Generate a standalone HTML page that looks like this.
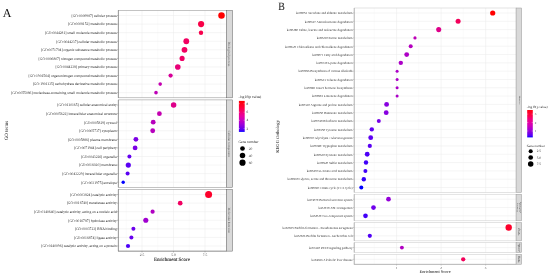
<!DOCTYPE html>
<html><head><meta charset="utf-8"><style>
html,body{margin:0;padding:0;background:#fff;}
body{width:550px;height:275px;overflow:hidden;}
svg{display:block;font-family:'Liberation Serif', 'Times New Roman', serif;text-rendering:geometricPrecision;}
</style></head><body>
<svg width="550" height="275" viewBox="0 0 550 275">
<rect width="550" height="275" fill="#fff"/>
<text x="2.8" y="16.8" font-size="12" fill="#111">A</text>
<text x="278.3" y="10.3" font-size="11.2" fill="#111" transform="translate(278.3 0) scale(0.88 1) translate(-278.3 0)">B</text>
<rect x="118.3" y="10.40" width="108.10" height="87.41" fill="#fff"/>
<line x1="126.25" y1="10.40" x2="126.25" y2="97.81" stroke="#f3f3f3" stroke-width="0.3"/>
<line x1="157.75" y1="10.40" x2="157.75" y2="97.81" stroke="#f3f3f3" stroke-width="0.3"/>
<line x1="189.25" y1="10.40" x2="189.25" y2="97.81" stroke="#f3f3f3" stroke-width="0.3"/>
<line x1="220.75" y1="10.40" x2="220.75" y2="97.81" stroke="#f3f3f3" stroke-width="0.3"/>
<line x1="142.00" y1="10.40" x2="142.00" y2="97.81" stroke="#ececec" stroke-width="0.55"/>
<line x1="173.50" y1="10.40" x2="173.50" y2="97.81" stroke="#ececec" stroke-width="0.55"/>
<line x1="205.00" y1="10.40" x2="205.00" y2="97.81" stroke="#ececec" stroke-width="0.55"/>
<line x1="118.3" y1="15.54" x2="226.4" y2="15.54" stroke="#ececec" stroke-width="0.55"/>
<line x1="118.3" y1="24.11" x2="226.4" y2="24.11" stroke="#ececec" stroke-width="0.55"/>
<line x1="118.3" y1="32.68" x2="226.4" y2="32.68" stroke="#ececec" stroke-width="0.55"/>
<line x1="118.3" y1="41.25" x2="226.4" y2="41.25" stroke="#ececec" stroke-width="0.55"/>
<line x1="118.3" y1="49.82" x2="226.4" y2="49.82" stroke="#ececec" stroke-width="0.55"/>
<line x1="118.3" y1="58.39" x2="226.4" y2="58.39" stroke="#ececec" stroke-width="0.55"/>
<line x1="118.3" y1="66.96" x2="226.4" y2="66.96" stroke="#ececec" stroke-width="0.55"/>
<line x1="118.3" y1="75.53" x2="226.4" y2="75.53" stroke="#ececec" stroke-width="0.55"/>
<line x1="118.3" y1="84.10" x2="226.4" y2="84.10" stroke="#ececec" stroke-width="0.55"/>
<line x1="118.3" y1="92.67" x2="226.4" y2="92.67" stroke="#ececec" stroke-width="0.55"/>
<rect x="118.3" y="10.40" width="108.10" height="87.41" fill="none" stroke="#888" stroke-width="0.5"/>
<line x1="118.3" y1="10.40" x2="118.3" y2="97.81" stroke="#808080" stroke-width="0.6"/>
<rect x="226.40" y="10.40" width="6.3" height="87.41" fill="#d9d9d9" stroke="#666" stroke-width="0.5"/>
<clipPath id="c344_0"><rect x="226.40" y="10.40" width="6.3" height="87.41"/></clipPath>
<g clip-path="url(#c344_0)"><text x="229.35" y="54.11" transform="rotate(90 229.35 54.11)" font-size="3.3" fill="#555" text-anchor="middle" dominant-baseline="central">Biological process</text></g>
<line x1="117.00" y1="15.54" x2="118.3" y2="15.54" stroke="#808080" stroke-width="0.5"/>
<text x="116.80" y="15.89" font-size="3.66" fill="#222" text-anchor="end" dominant-baseline="central">[GO:0009987] cellular process</text>
<circle cx="221.50" cy="15.54" r="3.25" fill="#ff0000"/>
<line x1="117.00" y1="24.11" x2="118.3" y2="24.11" stroke="#808080" stroke-width="0.5"/>
<text x="116.80" y="24.46" font-size="3.66" fill="#222" text-anchor="end" dominant-baseline="central">[GO:0008152] metabolic process</text>
<circle cx="201.10" cy="24.11" r="3.10" fill="#f80047"/>
<line x1="117.00" y1="32.68" x2="118.3" y2="32.68" stroke="#808080" stroke-width="0.5"/>
<text x="116.80" y="33.03" font-size="3.66" fill="#222" text-anchor="end" dominant-baseline="central">[GO:0044281] small molecule metabolic process</text>
<circle cx="201.00" cy="32.68" r="2.20" fill="#f7004c"/>
<line x1="117.00" y1="41.25" x2="118.3" y2="41.25" stroke="#808080" stroke-width="0.5"/>
<text x="116.80" y="41.60" font-size="3.66" fill="#222" text-anchor="end" dominant-baseline="central">[GO:0044237] cellular metabolic process</text>
<circle cx="186.30" cy="41.25" r="2.90" fill="#f10061"/>
<line x1="117.00" y1="49.82" x2="118.3" y2="49.82" stroke="#808080" stroke-width="0.5"/>
<text x="116.80" y="50.17" font-size="3.66" fill="#222" text-anchor="end" dominant-baseline="central">[GO:0071704] organic substance metabolic process</text>
<circle cx="184.50" cy="49.82" r="2.90" fill="#f10061"/>
<line x1="117.00" y1="58.39" x2="118.3" y2="58.39" stroke="#808080" stroke-width="0.5"/>
<text x="116.80" y="58.74" font-size="3.66" fill="#222" text-anchor="end" dominant-baseline="central">[GO:0006807] nitrogen compound metabolic process</text>
<circle cx="182.10" cy="58.39" r="2.55" fill="#ef0065"/>
<line x1="117.00" y1="66.96" x2="118.3" y2="66.96" stroke="#808080" stroke-width="0.5"/>
<text x="116.80" y="67.31" font-size="3.66" fill="#222" text-anchor="end" dominant-baseline="central">[GO:0044238] primary metabolic process</text>
<circle cx="177.80" cy="66.96" r="2.80" fill="#e80078"/>
<line x1="117.00" y1="75.53" x2="118.3" y2="75.53" stroke="#808080" stroke-width="0.5"/>
<text x="116.80" y="75.88" font-size="3.66" fill="#222" text-anchor="end" dominant-baseline="central">[GO:1901564] organonitrogen compound metabolic process</text>
<circle cx="170.60" cy="75.53" r="2.15" fill="#d60098"/>
<line x1="117.00" y1="84.10" x2="118.3" y2="84.10" stroke="#808080" stroke-width="0.5"/>
<text x="116.80" y="84.45" font-size="3.66" fill="#222" text-anchor="end" dominant-baseline="central">[GO:1901135] carbohydrate derivative metabolic process</text>
<circle cx="160.20" cy="84.10" r="1.80" fill="#c400b0"/>
<line x1="117.00" y1="92.67" x2="118.3" y2="92.67" stroke="#808080" stroke-width="0.5"/>
<text x="116.80" y="93.02" font-size="3.66" fill="#222" text-anchor="end" dominant-baseline="central">[GO:0055086] nucleobase-containing small molecule metabolic process</text>
<circle cx="156.00" cy="92.67" r="1.80" fill="#bd00b7"/>
<rect x="118.3" y="99.91" width="108.10" height="87.41" fill="#fff"/>
<line x1="126.25" y1="99.91" x2="126.25" y2="187.33" stroke="#f3f3f3" stroke-width="0.3"/>
<line x1="157.75" y1="99.91" x2="157.75" y2="187.33" stroke="#f3f3f3" stroke-width="0.3"/>
<line x1="189.25" y1="99.91" x2="189.25" y2="187.33" stroke="#f3f3f3" stroke-width="0.3"/>
<line x1="220.75" y1="99.91" x2="220.75" y2="187.33" stroke="#f3f3f3" stroke-width="0.3"/>
<line x1="142.00" y1="99.91" x2="142.00" y2="187.33" stroke="#ececec" stroke-width="0.55"/>
<line x1="173.50" y1="99.91" x2="173.50" y2="187.33" stroke="#ececec" stroke-width="0.55"/>
<line x1="205.00" y1="99.91" x2="205.00" y2="187.33" stroke="#ececec" stroke-width="0.55"/>
<line x1="118.3" y1="105.06" x2="226.4" y2="105.06" stroke="#ececec" stroke-width="0.55"/>
<line x1="118.3" y1="113.63" x2="226.4" y2="113.63" stroke="#ececec" stroke-width="0.55"/>
<line x1="118.3" y1="122.20" x2="226.4" y2="122.20" stroke="#ececec" stroke-width="0.55"/>
<line x1="118.3" y1="130.77" x2="226.4" y2="130.77" stroke="#ececec" stroke-width="0.55"/>
<line x1="118.3" y1="139.34" x2="226.4" y2="139.34" stroke="#ececec" stroke-width="0.55"/>
<line x1="118.3" y1="147.91" x2="226.4" y2="147.91" stroke="#ececec" stroke-width="0.55"/>
<line x1="118.3" y1="156.48" x2="226.4" y2="156.48" stroke="#ececec" stroke-width="0.55"/>
<line x1="118.3" y1="165.05" x2="226.4" y2="165.05" stroke="#ececec" stroke-width="0.55"/>
<line x1="118.3" y1="173.62" x2="226.4" y2="173.62" stroke="#ececec" stroke-width="0.55"/>
<line x1="118.3" y1="182.19" x2="226.4" y2="182.19" stroke="#ececec" stroke-width="0.55"/>
<rect x="118.3" y="99.91" width="108.10" height="87.41" fill="none" stroke="#888" stroke-width="0.5"/>
<line x1="118.3" y1="99.91" x2="118.3" y2="187.33" stroke="#808080" stroke-width="0.6"/>
<rect x="226.40" y="99.91" width="6.3" height="87.41" fill="#d9d9d9" stroke="#666" stroke-width="0.5"/>
<clipPath id="c344_1"><rect x="226.40" y="99.91" width="6.3" height="87.41"/></clipPath>
<g clip-path="url(#c344_1)"><text x="229.35" y="143.62" transform="rotate(90 229.35 143.62)" font-size="3.3" fill="#555" text-anchor="middle" dominant-baseline="central">Cellular component</text></g>
<line x1="117.00" y1="105.06" x2="118.3" y2="105.06" stroke="#808080" stroke-width="0.5"/>
<text x="116.80" y="105.41" font-size="3.66" fill="#222" text-anchor="end" dominant-baseline="central">[GO:0110165] cellular anatomical entity</text>
<circle cx="173.60" cy="105.06" r="2.75" fill="#de008a"/>
<line x1="117.00" y1="113.63" x2="118.3" y2="113.63" stroke="#808080" stroke-width="0.5"/>
<text x="116.80" y="113.98" font-size="3.66" fill="#222" text-anchor="end" dominant-baseline="central">[GO:0005622] intracellular anatomical structure</text>
<circle cx="159.40" cy="113.63" r="2.40" fill="#c400b0"/>
<line x1="117.00" y1="122.20" x2="118.3" y2="122.20" stroke="#808080" stroke-width="0.5"/>
<text x="116.80" y="122.55" font-size="3.66" fill="#222" text-anchor="end" dominant-baseline="central">[GO:0005829] cytosol</text>
<circle cx="153.20" cy="122.20" r="2.40" fill="#b700bd"/>
<line x1="117.00" y1="130.77" x2="118.3" y2="130.77" stroke="#808080" stroke-width="0.5"/>
<text x="116.80" y="131.12" font-size="3.66" fill="#222" text-anchor="end" dominant-baseline="central">[GO:0005737] cytoplasm</text>
<circle cx="152.70" cy="130.77" r="2.40" fill="#b700bd"/>
<line x1="117.00" y1="139.34" x2="118.3" y2="139.34" stroke="#808080" stroke-width="0.5"/>
<text x="116.80" y="139.69" font-size="3.66" fill="#222" text-anchor="end" dominant-baseline="central">[GO:0005886] plasma membrane</text>
<circle cx="135.90" cy="139.34" r="2.40" fill="#7d00e5"/>
<line x1="117.00" y1="147.91" x2="118.3" y2="147.91" stroke="#808080" stroke-width="0.5"/>
<text x="116.80" y="148.26" font-size="3.66" fill="#222" text-anchor="end" dominant-baseline="central">[GO:0071944] cell periphery</text>
<circle cx="135.10" cy="147.91" r="2.40" fill="#7b00e6"/>
<line x1="117.00" y1="156.48" x2="118.3" y2="156.48" stroke="#808080" stroke-width="0.5"/>
<text x="116.80" y="156.83" font-size="3.66" fill="#222" text-anchor="end" dominant-baseline="central">[GO:0043226] organelle</text>
<circle cx="129.40" cy="156.48" r="2.00" fill="#6500ef"/>
<line x1="117.00" y1="165.05" x2="118.3" y2="165.05" stroke="#808080" stroke-width="0.5"/>
<text x="116.80" y="165.40" font-size="3.66" fill="#222" text-anchor="end" dominant-baseline="central">[GO:0016020] membrane</text>
<circle cx="128.30" cy="165.05" r="2.60" fill="#5a00f3"/>
<line x1="117.00" y1="173.62" x2="118.3" y2="173.62" stroke="#808080" stroke-width="0.5"/>
<text x="116.80" y="173.97" font-size="3.66" fill="#222" text-anchor="end" dominant-baseline="central">[GO:0043229] intracellular organelle</text>
<circle cx="127.60" cy="173.62" r="2.00" fill="#5a00f3"/>
<line x1="117.00" y1="182.19" x2="118.3" y2="182.19" stroke="#808080" stroke-width="0.5"/>
<text x="116.80" y="182.54" font-size="3.66" fill="#222" text-anchor="end" dominant-baseline="central">[GO:0031975] envelope</text>
<circle cx="123.20" cy="182.19" r="1.70" fill="#0000ff"/>
<rect x="118.3" y="189.43" width="108.10" height="61.70" fill="#fff"/>
<line x1="126.25" y1="189.43" x2="126.25" y2="251.13" stroke="#f3f3f3" stroke-width="0.3"/>
<line x1="157.75" y1="189.43" x2="157.75" y2="251.13" stroke="#f3f3f3" stroke-width="0.3"/>
<line x1="189.25" y1="189.43" x2="189.25" y2="251.13" stroke="#f3f3f3" stroke-width="0.3"/>
<line x1="220.75" y1="189.43" x2="220.75" y2="251.13" stroke="#f3f3f3" stroke-width="0.3"/>
<line x1="142.00" y1="189.43" x2="142.00" y2="251.13" stroke="#ececec" stroke-width="0.55"/>
<line x1="173.50" y1="189.43" x2="173.50" y2="251.13" stroke="#ececec" stroke-width="0.55"/>
<line x1="205.00" y1="189.43" x2="205.00" y2="251.13" stroke="#ececec" stroke-width="0.55"/>
<line x1="118.3" y1="194.57" x2="226.4" y2="194.57" stroke="#ececec" stroke-width="0.55"/>
<line x1="118.3" y1="203.14" x2="226.4" y2="203.14" stroke="#ececec" stroke-width="0.55"/>
<line x1="118.3" y1="211.71" x2="226.4" y2="211.71" stroke="#ececec" stroke-width="0.55"/>
<line x1="118.3" y1="220.28" x2="226.4" y2="220.28" stroke="#ececec" stroke-width="0.55"/>
<line x1="118.3" y1="228.85" x2="226.4" y2="228.85" stroke="#ececec" stroke-width="0.55"/>
<line x1="118.3" y1="237.42" x2="226.4" y2="237.42" stroke="#ececec" stroke-width="0.55"/>
<line x1="118.3" y1="245.99" x2="226.4" y2="245.99" stroke="#ececec" stroke-width="0.55"/>
<rect x="118.3" y="189.43" width="108.10" height="61.70" fill="none" stroke="#888" stroke-width="0.5"/>
<line x1="118.3" y1="189.43" x2="118.3" y2="251.13" stroke="#808080" stroke-width="0.6"/>
<rect x="226.40" y="189.43" width="6.3" height="61.70" fill="#d9d9d9" stroke="#666" stroke-width="0.5"/>
<clipPath id="c344_2"><rect x="226.40" y="189.43" width="6.3" height="61.70"/></clipPath>
<g clip-path="url(#c344_2)"><text x="229.35" y="220.28" transform="rotate(90 229.35 220.28)" font-size="3.3" fill="#555" text-anchor="middle" dominant-baseline="central">Molecular function</text></g>
<line x1="117.00" y1="194.57" x2="118.3" y2="194.57" stroke="#808080" stroke-width="0.5"/>
<text x="116.80" y="194.92" font-size="3.66" fill="#222" text-anchor="end" dominant-baseline="central">[GO:0003824] catalytic activity</text>
<circle cx="208.60" cy="194.57" r="3.50" fill="#fd002b"/>
<line x1="117.00" y1="203.14" x2="118.3" y2="203.14" stroke="#808080" stroke-width="0.5"/>
<text x="116.80" y="203.49" font-size="3.66" fill="#222" text-anchor="end" dominant-baseline="central">[GO:0016740] transferase activity</text>
<circle cx="180.20" cy="203.14" r="2.35" fill="#f10061"/>
<line x1="117.00" y1="211.71" x2="118.3" y2="211.71" stroke="#808080" stroke-width="0.5"/>
<text x="116.80" y="212.06" font-size="3.66" fill="#222" text-anchor="end" dominant-baseline="central">[GO:0140640] catalytic activity, acting on a nucleic acid</text>
<circle cx="152.60" cy="211.71" r="2.10" fill="#b100c2"/>
<line x1="117.00" y1="220.28" x2="118.3" y2="220.28" stroke="#808080" stroke-width="0.5"/>
<text x="116.80" y="220.63" font-size="3.66" fill="#222" text-anchor="end" dominant-baseline="central">[GO:0016787] hydrolase activity</text>
<circle cx="145.80" cy="220.28" r="2.55" fill="#a000d0"/>
<line x1="117.00" y1="228.85" x2="118.3" y2="228.85" stroke="#808080" stroke-width="0.5"/>
<text x="116.80" y="229.20" font-size="3.66" fill="#222" text-anchor="end" dominant-baseline="central">[GO:0003723] RNA binding</text>
<circle cx="133.40" cy="228.85" r="2.00" fill="#6c00ed"/>
<line x1="117.00" y1="237.42" x2="118.3" y2="237.42" stroke="#808080" stroke-width="0.5"/>
<text x="116.80" y="237.77" font-size="3.66" fill="#222" text-anchor="end" dominant-baseline="central">[GO:0016874] ligase activity</text>
<circle cx="131.40" cy="237.42" r="2.00" fill="#6800ee"/>
<line x1="117.00" y1="245.99" x2="118.3" y2="245.99" stroke="#808080" stroke-width="0.5"/>
<text x="116.80" y="246.34" font-size="3.66" fill="#222" text-anchor="end" dominant-baseline="central">[GO:0140096] catalytic activity, acting on a protein</text>
<circle cx="128.00" cy="245.99" r="2.10" fill="#4c00f7"/>
<line x1="142.00" y1="251.13" x2="142.00" y2="252.43" stroke="#808080" stroke-width="0.5"/>
<text x="142.00" y="254.63" font-size="3.6" fill="#222" text-anchor="middle" dominant-baseline="central">2.5</text>
<line x1="173.50" y1="251.13" x2="173.50" y2="252.43" stroke="#808080" stroke-width="0.5"/>
<text x="173.50" y="254.63" font-size="3.6" fill="#222" text-anchor="middle" dominant-baseline="central">5.0</text>
<line x1="205.00" y1="251.13" x2="205.00" y2="252.43" stroke="#808080" stroke-width="0.5"/>
<text x="205.00" y="254.63" font-size="3.6" fill="#222" text-anchor="middle" dominant-baseline="central">7.5</text>
<line x1="118.00" y1="251.13" x2="226.4" y2="251.13" stroke="#808080" stroke-width="0.6"/>
<rect x="354.2" y="8.00" width="161.90" height="184.48" fill="#fff"/>
<line x1="374.27" y1="8.00" x2="374.27" y2="192.48" stroke="#f3f3f3" stroke-width="0.3"/>
<line x1="418.82" y1="8.00" x2="418.82" y2="192.48" stroke="#f3f3f3" stroke-width="0.3"/>
<line x1="463.38" y1="8.00" x2="463.38" y2="192.48" stroke="#f3f3f3" stroke-width="0.3"/>
<line x1="507.92" y1="8.00" x2="507.92" y2="192.48" stroke="#f3f3f3" stroke-width="0.3"/>
<line x1="396.55" y1="8.00" x2="396.55" y2="192.48" stroke="#ececec" stroke-width="0.55"/>
<line x1="441.10" y1="8.00" x2="441.10" y2="192.48" stroke="#ececec" stroke-width="0.55"/>
<line x1="485.65" y1="8.00" x2="485.65" y2="192.48" stroke="#ececec" stroke-width="0.55"/>
<line x1="354.2" y1="12.99" x2="516.1" y2="12.99" stroke="#ececec" stroke-width="0.55"/>
<line x1="354.2" y1="21.30" x2="516.1" y2="21.30" stroke="#ececec" stroke-width="0.55"/>
<line x1="354.2" y1="29.61" x2="516.1" y2="29.61" stroke="#ececec" stroke-width="0.55"/>
<line x1="354.2" y1="37.92" x2="516.1" y2="37.92" stroke="#ececec" stroke-width="0.55"/>
<line x1="354.2" y1="46.23" x2="516.1" y2="46.23" stroke="#ececec" stroke-width="0.55"/>
<line x1="354.2" y1="54.54" x2="516.1" y2="54.54" stroke="#ececec" stroke-width="0.55"/>
<line x1="354.2" y1="62.85" x2="516.1" y2="62.85" stroke="#ececec" stroke-width="0.55"/>
<line x1="354.2" y1="71.16" x2="516.1" y2="71.16" stroke="#ececec" stroke-width="0.55"/>
<line x1="354.2" y1="79.47" x2="516.1" y2="79.47" stroke="#ececec" stroke-width="0.55"/>
<line x1="354.2" y1="87.78" x2="516.1" y2="87.78" stroke="#ececec" stroke-width="0.55"/>
<line x1="354.2" y1="96.09" x2="516.1" y2="96.09" stroke="#ececec" stroke-width="0.55"/>
<line x1="354.2" y1="104.40" x2="516.1" y2="104.40" stroke="#ececec" stroke-width="0.55"/>
<line x1="354.2" y1="112.71" x2="516.1" y2="112.71" stroke="#ececec" stroke-width="0.55"/>
<line x1="354.2" y1="121.02" x2="516.1" y2="121.02" stroke="#ececec" stroke-width="0.55"/>
<line x1="354.2" y1="129.33" x2="516.1" y2="129.33" stroke="#ececec" stroke-width="0.55"/>
<line x1="354.2" y1="137.64" x2="516.1" y2="137.64" stroke="#ececec" stroke-width="0.55"/>
<line x1="354.2" y1="145.95" x2="516.1" y2="145.95" stroke="#ececec" stroke-width="0.55"/>
<line x1="354.2" y1="154.26" x2="516.1" y2="154.26" stroke="#ececec" stroke-width="0.55"/>
<line x1="354.2" y1="162.57" x2="516.1" y2="162.57" stroke="#ececec" stroke-width="0.55"/>
<line x1="354.2" y1="170.88" x2="516.1" y2="170.88" stroke="#ececec" stroke-width="0.55"/>
<line x1="354.2" y1="179.19" x2="516.1" y2="179.19" stroke="#ececec" stroke-width="0.55"/>
<line x1="354.2" y1="187.50" x2="516.1" y2="187.50" stroke="#ececec" stroke-width="0.55"/>
<rect x="354.2" y="8.00" width="161.90" height="184.48" fill="none" stroke="#c8c8c8" stroke-width="0.5"/>
<line x1="354.2" y1="8.00" x2="354.2" y2="192.48" stroke="#a0a0a0" stroke-width="0.65"/>
<rect x="516.10" y="8.00" width="5.6" height="184.48" fill="#d9d9d9" stroke="#999" stroke-width="0.5"/>
<clipPath id="c432_0"><rect x="516.10" y="8.00" width="5.6" height="184.48"/></clipPath>
<g clip-path="url(#c432_0)"><text x="518.60" y="100.24" transform="rotate(90 518.60 100.24)" font-size="1.9" fill="#222" text-anchor="middle" dominant-baseline="central">Metabolism</text></g>
<line x1="352.90" y1="12.99" x2="354.2" y2="12.99" stroke="#a0a0a0" stroke-width="0.5"/>
<text x="352.60" y="13.29" font-size="3.2" fill="#222" text-anchor="end" dominant-baseline="central">ko00053 Ascorbate and aldarate metabolism</text>
<circle cx="492.70" cy="12.99" r="2.60" fill="#ff0000"/>
<line x1="352.90" y1="21.30" x2="354.2" y2="21.30" stroke="#a0a0a0" stroke-width="0.5"/>
<text x="352.60" y="21.60" font-size="3.2" fill="#222" text-anchor="end" dominant-baseline="central">ko00627 Aminobenzoate degradation</text>
<circle cx="458.10" cy="21.30" r="2.50" fill="#f3005a"/>
<line x1="352.90" y1="29.61" x2="354.2" y2="29.61" stroke="#a0a0a0" stroke-width="0.5"/>
<text x="352.60" y="29.91" font-size="3.2" fill="#222" text-anchor="end" dominant-baseline="central">ko00280 Valine, leucine and isoleucine degradation</text>
<circle cx="438.70" cy="29.61" r="2.55" fill="#de008a"/>
<line x1="352.90" y1="37.92" x2="354.2" y2="37.92" stroke="#a0a0a0" stroke-width="0.5"/>
<text x="352.60" y="38.22" font-size="3.2" fill="#222" text-anchor="end" dominant-baseline="central">ko00230 Purine metabolism</text>
<circle cx="415.00" cy="37.92" r="1.60" fill="#bd00b7"/>
<line x1="352.90" y1="46.23" x2="354.2" y2="46.23" stroke="#a0a0a0" stroke-width="0.5"/>
<text x="352.60" y="46.53" font-size="3.2" fill="#222" text-anchor="end" dominant-baseline="central">ko00625 Chloroalkane and chloroalkene degradation</text>
<circle cx="410.70" cy="46.23" r="2.00" fill="#b500bf"/>
<line x1="352.90" y1="54.54" x2="354.2" y2="54.54" stroke="#a0a0a0" stroke-width="0.5"/>
<text x="352.60" y="54.84" font-size="3.2" fill="#222" text-anchor="end" dominant-baseline="central">ko00071 Fatty acid degradation</text>
<circle cx="406.70" cy="54.54" r="2.40" fill="#ae00c6"/>
<line x1="352.90" y1="62.85" x2="354.2" y2="62.85" stroke="#a0a0a0" stroke-width="0.5"/>
<text x="352.60" y="63.15" font-size="3.2" fill="#222" text-anchor="end" dominant-baseline="central">ko00310 Lysine degradation</text>
<circle cx="400.80" cy="62.85" r="2.20" fill="#ac00c7"/>
<line x1="352.90" y1="71.16" x2="354.2" y2="71.16" stroke="#a0a0a0" stroke-width="0.5"/>
<text x="352.60" y="71.46" font-size="3.2" fill="#222" text-anchor="end" dominant-baseline="central">ko00996 Biosynthesis of various alkaloids</text>
<circle cx="397.10" cy="71.16" r="1.50" fill="#ac00c7"/>
<line x1="352.90" y1="79.47" x2="354.2" y2="79.47" stroke="#a0a0a0" stroke-width="0.5"/>
<text x="352.60" y="79.77" font-size="3.2" fill="#222" text-anchor="end" dominant-baseline="central">ko00623 Toluene degradation</text>
<circle cx="397.10" cy="79.47" r="1.50" fill="#ac00c7"/>
<line x1="352.90" y1="87.78" x2="354.2" y2="87.78" stroke="#a0a0a0" stroke-width="0.5"/>
<text x="352.60" y="88.08" font-size="3.2" fill="#222" text-anchor="end" dominant-baseline="central">ko00981 Insect hormone biosynthesis</text>
<circle cx="397.10" cy="87.78" r="1.50" fill="#ac00c7"/>
<line x1="352.90" y1="96.09" x2="354.2" y2="96.09" stroke="#a0a0a0" stroke-width="0.5"/>
<text x="352.60" y="96.39" font-size="3.2" fill="#222" text-anchor="end" dominant-baseline="central">ko00903 Limonene degradation</text>
<circle cx="397.10" cy="96.09" r="1.50" fill="#ac00c7"/>
<line x1="352.90" y1="104.40" x2="354.2" y2="104.40" stroke="#a0a0a0" stroke-width="0.5"/>
<text x="352.60" y="104.70" font-size="3.2" fill="#222" text-anchor="end" dominant-baseline="central">ko00330 Arginine and proline metabolism</text>
<circle cx="386.60" cy="104.40" r="2.40" fill="#8800e0"/>
<line x1="352.90" y1="112.71" x2="354.2" y2="112.71" stroke="#a0a0a0" stroke-width="0.5"/>
<text x="352.60" y="113.01" font-size="3.2" fill="#222" text-anchor="end" dominant-baseline="central">ko00650 Butanoate metabolism</text>
<circle cx="386.20" cy="112.71" r="2.40" fill="#8800e0"/>
<line x1="352.90" y1="121.02" x2="354.2" y2="121.02" stroke="#a0a0a0" stroke-width="0.5"/>
<text x="352.60" y="121.32" font-size="3.2" fill="#222" text-anchor="end" dominant-baseline="central">ko00740 Riboflavin metabolism</text>
<circle cx="378.80" cy="121.02" r="2.00" fill="#7800e8"/>
<line x1="352.90" y1="129.33" x2="354.2" y2="129.33" stroke="#a0a0a0" stroke-width="0.5"/>
<text x="352.60" y="129.63" font-size="3.2" fill="#222" text-anchor="end" dominant-baseline="central">ko00350 Tyrosine metabolism</text>
<circle cx="371.80" cy="129.33" r="2.20" fill="#6100f1"/>
<line x1="352.90" y1="137.64" x2="354.2" y2="137.64" stroke="#a0a0a0" stroke-width="0.5"/>
<text x="352.60" y="137.94" font-size="3.2" fill="#222" text-anchor="end" dominant-baseline="central">ko00010 Glycolysis / Gluconeogenesis</text>
<circle cx="370.70" cy="137.64" r="2.40" fill="#5d00f2"/>
<line x1="352.90" y1="145.95" x2="354.2" y2="145.95" stroke="#a0a0a0" stroke-width="0.5"/>
<text x="352.60" y="146.25" font-size="3.2" fill="#222" text-anchor="end" dominant-baseline="central">ko00380 Tryptophan metabolism</text>
<circle cx="369.80" cy="145.95" r="2.10" fill="#5a00f3"/>
<line x1="352.90" y1="154.26" x2="354.2" y2="154.26" stroke="#a0a0a0" stroke-width="0.5"/>
<text x="352.60" y="154.56" font-size="3.2" fill="#222" text-anchor="end" dominant-baseline="central">ko00620 Pyruvate metabolism</text>
<circle cx="367.20" cy="154.26" r="2.40" fill="#4c00f7"/>
<line x1="352.90" y1="162.57" x2="354.2" y2="162.57" stroke="#a0a0a0" stroke-width="0.5"/>
<text x="352.60" y="162.87" font-size="3.2" fill="#222" text-anchor="end" dominant-baseline="central">ko00920 Sulfur metabolism</text>
<circle cx="366.00" cy="162.57" r="2.20" fill="#4100f9"/>
<line x1="352.90" y1="170.88" x2="354.2" y2="170.88" stroke="#a0a0a0" stroke-width="0.5"/>
<text x="352.60" y="171.18" font-size="3.2" fill="#222" text-anchor="end" dominant-baseline="central">ko00470 D-Amino acid metabolism</text>
<circle cx="365.40" cy="170.88" r="2.00" fill="#4100f9"/>
<line x1="352.90" y1="179.19" x2="354.2" y2="179.19" stroke="#a0a0a0" stroke-width="0.5"/>
<text x="352.60" y="179.49" font-size="3.2" fill="#222" text-anchor="end" dominant-baseline="central">ko00260 Glycine, serine and threonine metabolism</text>
<circle cx="363.80" cy="179.19" r="2.20" fill="#3400fb"/>
<line x1="352.90" y1="187.50" x2="354.2" y2="187.50" stroke="#a0a0a0" stroke-width="0.5"/>
<text x="352.60" y="187.80" font-size="3.2" fill="#222" text-anchor="end" dominant-baseline="central">ko00020 Citrate cycle (TCA cycle)</text>
<circle cx="361.30" cy="187.50" r="2.00" fill="#0000ff"/>
<rect x="354.2" y="194.23" width="161.90" height="26.59" fill="#fff"/>
<line x1="374.27" y1="194.23" x2="374.27" y2="220.82" stroke="#f3f3f3" stroke-width="0.3"/>
<line x1="418.82" y1="194.23" x2="418.82" y2="220.82" stroke="#f3f3f3" stroke-width="0.3"/>
<line x1="463.38" y1="194.23" x2="463.38" y2="220.82" stroke="#f3f3f3" stroke-width="0.3"/>
<line x1="507.92" y1="194.23" x2="507.92" y2="220.82" stroke="#f3f3f3" stroke-width="0.3"/>
<line x1="396.55" y1="194.23" x2="396.55" y2="220.82" stroke="#ececec" stroke-width="0.55"/>
<line x1="441.10" y1="194.23" x2="441.10" y2="220.82" stroke="#ececec" stroke-width="0.55"/>
<line x1="485.65" y1="194.23" x2="485.65" y2="220.82" stroke="#ececec" stroke-width="0.55"/>
<line x1="354.2" y1="199.22" x2="516.1" y2="199.22" stroke="#ececec" stroke-width="0.55"/>
<line x1="354.2" y1="207.53" x2="516.1" y2="207.53" stroke="#ececec" stroke-width="0.55"/>
<line x1="354.2" y1="215.84" x2="516.1" y2="215.84" stroke="#ececec" stroke-width="0.55"/>
<rect x="354.2" y="194.23" width="161.90" height="26.59" fill="none" stroke="#c8c8c8" stroke-width="0.5"/>
<line x1="354.2" y1="194.23" x2="354.2" y2="220.82" stroke="#a0a0a0" stroke-width="0.65"/>
<rect x="516.10" y="194.23" width="5.6" height="26.59" fill="#d9d9d9" stroke="#999" stroke-width="0.5"/>
<clipPath id="c432_1"><rect x="516.10" y="194.23" width="5.6" height="26.59"/></clipPath>
<g clip-path="url(#c432_1)"><text x="520.12" y="207.53" transform="rotate(90 520.12 207.53)" font-size="1.9" fill="#222" text-anchor="middle" dominant-baseline="central">Environmental</text><text x="518.60" y="207.53" transform="rotate(90 518.60 207.53)" font-size="1.9" fill="#222" text-anchor="middle" dominant-baseline="central">Information</text><text x="517.08" y="207.53" transform="rotate(90 517.08 207.53)" font-size="1.9" fill="#222" text-anchor="middle" dominant-baseline="central">Processing</text></g>
<line x1="352.90" y1="199.22" x2="354.2" y2="199.22" stroke="#a0a0a0" stroke-width="0.5"/>
<text x="352.60" y="199.52" font-size="3.2" fill="#222" text-anchor="end" dominant-baseline="central">ko03070 Bacterial secretion system</text>
<circle cx="388.50" cy="199.22" r="2.35" fill="#9400d9"/>
<line x1="352.90" y1="207.53" x2="354.2" y2="207.53" stroke="#a0a0a0" stroke-width="0.5"/>
<text x="352.60" y="207.83" font-size="3.2" fill="#222" text-anchor="end" dominant-baseline="central">ko02010 ABC transporters</text>
<circle cx="373.50" cy="207.53" r="2.35" fill="#6f00ec"/>
<line x1="352.90" y1="215.84" x2="354.2" y2="215.84" stroke="#a0a0a0" stroke-width="0.5"/>
<text x="352.60" y="216.14" font-size="3.2" fill="#222" text-anchor="end" dominant-baseline="central">ko02020 Two-component system</text>
<circle cx="365.50" cy="215.84" r="2.35" fill="#4100f9"/>
<rect x="354.2" y="222.57" width="161.90" height="18.28" fill="#fff"/>
<line x1="374.27" y1="222.57" x2="374.27" y2="240.86" stroke="#f3f3f3" stroke-width="0.3"/>
<line x1="418.82" y1="222.57" x2="418.82" y2="240.86" stroke="#f3f3f3" stroke-width="0.3"/>
<line x1="463.38" y1="222.57" x2="463.38" y2="240.86" stroke="#f3f3f3" stroke-width="0.3"/>
<line x1="507.92" y1="222.57" x2="507.92" y2="240.86" stroke="#f3f3f3" stroke-width="0.3"/>
<line x1="396.55" y1="222.57" x2="396.55" y2="240.86" stroke="#ececec" stroke-width="0.55"/>
<line x1="441.10" y1="222.57" x2="441.10" y2="240.86" stroke="#ececec" stroke-width="0.55"/>
<line x1="485.65" y1="222.57" x2="485.65" y2="240.86" stroke="#ececec" stroke-width="0.55"/>
<line x1="354.2" y1="227.56" x2="516.1" y2="227.56" stroke="#ececec" stroke-width="0.55"/>
<line x1="354.2" y1="235.87" x2="516.1" y2="235.87" stroke="#ececec" stroke-width="0.55"/>
<rect x="354.2" y="222.57" width="161.90" height="18.28" fill="none" stroke="#c8c8c8" stroke-width="0.5"/>
<line x1="354.2" y1="222.57" x2="354.2" y2="240.86" stroke="#a0a0a0" stroke-width="0.65"/>
<rect x="516.10" y="222.57" width="5.6" height="18.28" fill="#d9d9d9" stroke="#999" stroke-width="0.5"/>
<clipPath id="c432_2"><rect x="516.10" y="222.57" width="5.6" height="18.28"/></clipPath>
<g clip-path="url(#c432_2)"><text x="519.36" y="231.72" transform="rotate(90 519.36 231.72)" font-size="1.9" fill="#222" text-anchor="middle" dominant-baseline="central">Cellular</text><text x="517.84" y="231.72" transform="rotate(90 517.84 231.72)" font-size="1.9" fill="#222" text-anchor="middle" dominant-baseline="central">Processes</text></g>
<line x1="352.90" y1="227.56" x2="354.2" y2="227.56" stroke="#a0a0a0" stroke-width="0.5"/>
<text x="352.60" y="227.86" font-size="3.2" fill="#222" text-anchor="end" dominant-baseline="central">ko02025 Biofilm formation - Pseudomonas aeruginosa</text>
<circle cx="508.70" cy="227.56" r="3.20" fill="#fd002b"/>
<line x1="352.90" y1="235.87" x2="354.2" y2="235.87" stroke="#a0a0a0" stroke-width="0.5"/>
<text x="352.60" y="236.17" font-size="3.2" fill="#222" text-anchor="end" dominant-baseline="central">ko02026 Biofilm formation - Escherichia coli</text>
<circle cx="369.80" cy="235.87" r="2.10" fill="#5100f6"/>
<rect x="354.2" y="242.61" width="161.90" height="9.97" fill="#fff"/>
<line x1="374.27" y1="242.61" x2="374.27" y2="252.58" stroke="#f3f3f3" stroke-width="0.3"/>
<line x1="418.82" y1="242.61" x2="418.82" y2="252.58" stroke="#f3f3f3" stroke-width="0.3"/>
<line x1="463.38" y1="242.61" x2="463.38" y2="252.58" stroke="#f3f3f3" stroke-width="0.3"/>
<line x1="507.92" y1="242.61" x2="507.92" y2="252.58" stroke="#f3f3f3" stroke-width="0.3"/>
<line x1="396.55" y1="242.61" x2="396.55" y2="252.58" stroke="#ececec" stroke-width="0.55"/>
<line x1="441.10" y1="242.61" x2="441.10" y2="252.58" stroke="#ececec" stroke-width="0.55"/>
<line x1="485.65" y1="242.61" x2="485.65" y2="252.58" stroke="#ececec" stroke-width="0.55"/>
<line x1="354.2" y1="247.59" x2="516.1" y2="247.59" stroke="#ececec" stroke-width="0.55"/>
<rect x="354.2" y="242.61" width="161.90" height="9.97" fill="none" stroke="#c8c8c8" stroke-width="0.5"/>
<line x1="354.2" y1="242.61" x2="354.2" y2="252.58" stroke="#a0a0a0" stroke-width="0.65"/>
<rect x="516.10" y="242.61" width="5.6" height="9.97" fill="#d9d9d9" stroke="#999" stroke-width="0.5"/>
<clipPath id="c432_3"><rect x="516.10" y="242.61" width="5.6" height="9.97"/></clipPath>
<g clip-path="url(#c432_3)"><text x="519.36" y="247.59" transform="rotate(90 519.36 247.59)" font-size="1.9" fill="#222" text-anchor="middle" dominant-baseline="central">Organismal</text><text x="517.84" y="247.59" transform="rotate(90 517.84 247.59)" font-size="1.9" fill="#222" text-anchor="middle" dominant-baseline="central">Systems</text></g>
<line x1="352.90" y1="247.59" x2="354.2" y2="247.59" stroke="#a0a0a0" stroke-width="0.5"/>
<text x="352.60" y="247.89" font-size="3.2" fill="#222" text-anchor="end" dominant-baseline="central">ko03320 PPAR signaling pathway</text>
<circle cx="401.90" cy="247.59" r="1.95" fill="#b100c2"/>
<rect x="354.2" y="254.33" width="161.90" height="9.97" fill="#fff"/>
<line x1="374.27" y1="254.33" x2="374.27" y2="264.30" stroke="#f3f3f3" stroke-width="0.3"/>
<line x1="418.82" y1="254.33" x2="418.82" y2="264.30" stroke="#f3f3f3" stroke-width="0.3"/>
<line x1="463.38" y1="254.33" x2="463.38" y2="264.30" stroke="#f3f3f3" stroke-width="0.3"/>
<line x1="507.92" y1="254.33" x2="507.92" y2="264.30" stroke="#f3f3f3" stroke-width="0.3"/>
<line x1="396.55" y1="254.33" x2="396.55" y2="264.30" stroke="#ececec" stroke-width="0.55"/>
<line x1="441.10" y1="254.33" x2="441.10" y2="264.30" stroke="#ececec" stroke-width="0.55"/>
<line x1="485.65" y1="254.33" x2="485.65" y2="264.30" stroke="#ececec" stroke-width="0.55"/>
<line x1="354.2" y1="259.31" x2="516.1" y2="259.31" stroke="#ececec" stroke-width="0.55"/>
<rect x="354.2" y="254.33" width="161.90" height="9.97" fill="none" stroke="#c8c8c8" stroke-width="0.5"/>
<line x1="354.2" y1="254.33" x2="354.2" y2="264.30" stroke="#a0a0a0" stroke-width="0.65"/>
<rect x="516.10" y="254.33" width="5.6" height="9.97" fill="#d9d9d9" stroke="#999" stroke-width="0.5"/>
<clipPath id="c432_4"><rect x="516.10" y="254.33" width="5.6" height="9.97"/></clipPath>
<g clip-path="url(#c432_4)"><text x="519.36" y="259.31" transform="rotate(90 519.36 259.31)" font-size="1.9" fill="#222" text-anchor="middle" dominant-baseline="central">Human</text><text x="517.84" y="259.31" transform="rotate(90 517.84 259.31)" font-size="1.9" fill="#222" text-anchor="middle" dominant-baseline="central">Diseases</text></g>
<line x1="352.90" y1="259.31" x2="354.2" y2="259.31" stroke="#a0a0a0" stroke-width="0.5"/>
<text x="352.60" y="259.61" font-size="3.2" fill="#222" text-anchor="end" dominant-baseline="central">ko04936 Alcoholic liver disease</text>
<circle cx="463.20" cy="259.31" r="2.15" fill="#f3005a"/>
<line x1="396.55" y1="264.30" x2="396.55" y2="265.60" stroke="#a0a0a0" stroke-width="0.5"/>
<text x="396.55" y="267.70" font-size="3.2" fill="#222" text-anchor="middle" dominant-baseline="central">1</text>
<line x1="441.10" y1="264.30" x2="441.10" y2="265.60" stroke="#a0a0a0" stroke-width="0.5"/>
<text x="441.10" y="267.70" font-size="3.2" fill="#222" text-anchor="middle" dominant-baseline="central">2</text>
<line x1="485.65" y1="264.30" x2="485.65" y2="265.60" stroke="#a0a0a0" stroke-width="0.5"/>
<text x="485.65" y="267.70" font-size="3.2" fill="#222" text-anchor="middle" dominant-baseline="central">3</text>
<line x1="353.88" y1="264.30" x2="516.1" y2="264.30" stroke="#a0a0a0" stroke-width="0.65"/>
<text x="172" y="260.8" font-size="5" text-anchor="middle" fill="#111" stroke="#111" stroke-width="0.1">Enrichment Score</text>
<text x="435.1" y="272.6" font-size="4.33" text-anchor="middle" fill="#111">Enrichment Score</text>
<text x="7.6" y="130.5" font-size="5" text-anchor="middle" fill="#111" transform="rotate(-90 7.6 130.5)" dominant-baseline="central">GO terms</text>
<text x="277.7" y="136.4" font-size="4.58" text-anchor="middle" fill="#111" transform="rotate(-90 277.7 136.4)" dominant-baseline="central">KEGG Orthology</text>
<text x="238.50" y="96.60" font-size="3.7" fill="#222" dominant-baseline="central">-log10(p value)</text>
<defs><linearGradient id="ag" x1="0" y1="1" x2="0" y2="0"><stop offset="0.000" stop-color="#0000ff"/><stop offset="0.055" stop-color="#5000f8"/><stop offset="0.120" stop-color="#7000e8"/><stop offset="0.250" stop-color="#a000d8"/><stop offset="0.380" stop-color="#c800c0"/><stop offset="0.510" stop-color="#e800a0"/><stop offset="0.610" stop-color="#f00080"/><stop offset="0.770" stop-color="#ff0040"/><stop offset="1.000" stop-color="#ff0000"/></linearGradient></defs>
<rect x="238.90" y="100.90" width="5.80" height="31.00" fill="url(#ag)"/>
<line x1="238.90" y1="103.70" x2="240.00" y2="103.70" stroke="#fff" stroke-width="0.35"/>
<line x1="243.60" y1="103.70" x2="244.70" y2="103.70" stroke="#fff" stroke-width="0.35"/>
<text x="246.60" y="103.70" font-size="3.4" fill="#222" dominant-baseline="central">8</text>
<line x1="238.90" y1="112.20" x2="240.00" y2="112.20" stroke="#fff" stroke-width="0.35"/>
<line x1="243.60" y1="112.20" x2="244.70" y2="112.20" stroke="#fff" stroke-width="0.35"/>
<text x="246.60" y="112.20" font-size="3.4" fill="#222" dominant-baseline="central">6</text>
<line x1="238.90" y1="120.30" x2="240.00" y2="120.30" stroke="#fff" stroke-width="0.35"/>
<line x1="243.60" y1="120.30" x2="244.70" y2="120.30" stroke="#fff" stroke-width="0.35"/>
<text x="246.60" y="120.30" font-size="3.4" fill="#222" dominant-baseline="central">4</text>
<line x1="238.90" y1="128.50" x2="240.00" y2="128.50" stroke="#fff" stroke-width="0.35"/>
<line x1="243.60" y1="128.50" x2="244.70" y2="128.50" stroke="#fff" stroke-width="0.35"/>
<text x="246.60" y="128.50" font-size="3.4" fill="#222" dominant-baseline="central">2</text>
<text x="238.40" y="142.40" font-size="3.7" fill="#222" dominant-baseline="central">Gene number</text>
<circle cx="242.50" cy="148.50" r="2.35" fill="#000"/>
<text x="248.80" y="148.50" font-size="3.6" fill="#222" dominant-baseline="central">20</text>
<circle cx="242.50" cy="155.50" r="2.75" fill="#000"/>
<text x="248.80" y="155.50" font-size="3.6" fill="#222" dominant-baseline="central">40</text>
<circle cx="242.50" cy="162.70" r="3.10" fill="#000"/>
<text x="248.80" y="162.70" font-size="3.6" fill="#222" dominant-baseline="central">60</text>
<text x="526.80" y="106.50" font-size="3.35" fill="#222" dominant-baseline="central">-log10(p value)</text>
<defs><linearGradient id="bg" x1="0" y1="1" x2="0" y2="0"><stop offset="0.000" stop-color="#0000ff"/><stop offset="0.060" stop-color="#5000f8"/><stop offset="0.140" stop-color="#7400e8"/><stop offset="0.280" stop-color="#a400d4"/><stop offset="0.420" stop-color="#cc00bc"/><stop offset="0.550" stop-color="#e400a0"/><stop offset="0.660" stop-color="#f00080"/><stop offset="0.800" stop-color="#fc0048"/><stop offset="1.000" stop-color="#ff0010"/></linearGradient></defs>
<rect x="527.20" y="110.00" width="5.60" height="27.40" fill="url(#bg)"/>
<line x1="527.20" y1="114.10" x2="528.30" y2="114.10" stroke="#fff" stroke-width="0.35"/>
<line x1="531.70" y1="114.10" x2="532.80" y2="114.10" stroke="#fff" stroke-width="0.35"/>
<text x="534.70" y="114.10" font-size="3.2" fill="#222" dominant-baseline="central">3</text>
<line x1="527.20" y1="122.50" x2="528.30" y2="122.50" stroke="#fff" stroke-width="0.35"/>
<line x1="531.70" y1="122.50" x2="532.80" y2="122.50" stroke="#fff" stroke-width="0.35"/>
<text x="534.70" y="122.50" font-size="3.2" fill="#222" dominant-baseline="central">2</text>
<line x1="527.20" y1="131.00" x2="528.30" y2="131.00" stroke="#fff" stroke-width="0.35"/>
<line x1="531.70" y1="131.00" x2="532.80" y2="131.00" stroke="#fff" stroke-width="0.35"/>
<text x="534.70" y="131.00" font-size="3.2" fill="#222" dominant-baseline="central">1</text>
<text x="526.70" y="145.80" font-size="3.35" fill="#222" dominant-baseline="central">Gene number</text>
<circle cx="530.70" cy="151.30" r="2.05" fill="#000"/>
<text x="536.80" y="151.30" font-size="3.4000000000000004" fill="#222" dominant-baseline="central">2.5</text>
<circle cx="530.70" cy="157.50" r="2.35" fill="#000"/>
<text x="536.80" y="157.50" font-size="3.4000000000000004" fill="#222" dominant-baseline="central">5.0</text>
<circle cx="530.70" cy="164.00" r="2.75" fill="#000"/>
<text x="536.80" y="164.00" font-size="3.4000000000000004" fill="#222" dominant-baseline="central">7.5</text>
</svg>
</body></html>
